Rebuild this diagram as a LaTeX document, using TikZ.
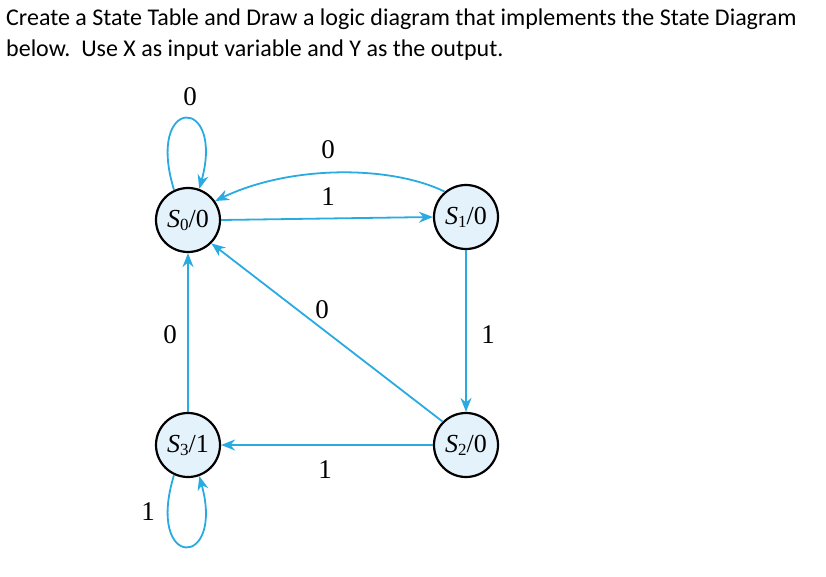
\documentclass[tikz,border=0pt]{standalone}
\usepackage{fontspec}
\setmainfont{Liberation Serif}
\newfontfamily\calib{Carlito}
\usetikzlibrary{arrows.meta}
\definecolor{edgeblue}{HTML}{29ABE2}
\definecolor{fillblue}{HTML}{E4F3FB}
\newcommand{\stname}[2]{\textit{S}\raisebox{-0.25ex}{\fontsize{17}{17}\selectfont #1}/#2}
\begin{document}
\begin{tikzpicture}[x=1pt,y=-1pt,
  st/.style={circle,draw=black,line width=2.2pt,fill=fillblue,minimum size=64pt,inner sep=0pt,font=\fontsize{26}{28}\selectfont},
  tr/.style={draw=edgeblue,line width=1.8pt,-{Stealth[length=14pt,width=11pt]}},
  lab/.style={font=\fontsize{27}{29}\selectfont,inner sep=1pt}]
\useasboundingbox (0,0) rectangle (826,577);
\node[anchor=north west,align=left,inner sep=0pt,font=\calib\fontsize{24}{31}\selectfont] (title) at (6,9)
 {Create a State Table and Draw a logic diagram that implements the State Diagram\\below.\ \ Use X as input variable and Y as the output.};
\node[st] (s0) at (188,220) {\stname{0}{0}};
\node[st] (s1) at (466,217) {\stname{1}{0}};
\node[st] (s2) at (466,445) {\stname{2}{0}};
\node[st] (s3) at (188,445) {\stname{3}{1}};
\draw[tr] (s0.115) .. controls (145,95) and (225,95) .. (s0.70);
\node[lab] (l00) at (190,97) {0};
\draw[tr] (s1.130) .. controls (390,165) and (290,165) .. (s0.35);
\node[lab] (l10) at (328,150) {0};
\draw[tr] (s0.east) -- (s1.west);
\node[lab] (l01) at (328,197) {1};
\draw[tr] (s1.south) -- (s2.north);
\node[lab] (l12) at (488,335) {1};
\draw[tr] (s2.135) -- (s0.-45);
\node[lab] (l20) at (322,310) {0};
\draw[tr] (s2.west) -- (s3.east);
\node[lab] (l23) at (325,470) {1};
\draw[tr] (s3.north) -- (s0.south);
\node[lab] (l30) at (170,335) {0};
\draw[tr] (s3.-115) .. controls (145,570) and (225,570) .. (s3.-70);
\node[lab] (l33) at (148,512) {1};
\end{tikzpicture}
\end{document}
